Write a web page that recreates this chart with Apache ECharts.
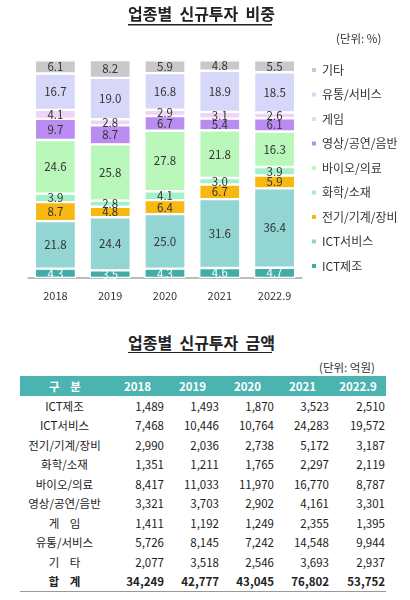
<!DOCTYPE html>
<html><head><meta charset="utf-8">
<script src="https://cdn.jsdelivr.net/npm/echarts@6/dist/echarts.min.js"></script>
<style>
html,body{margin:0;padding:0;background:#fff;width:410px;height:600px;overflow:hidden;font-family:"Noto Sans CJK KR","Noto Sans",sans-serif;color:#222;}
#chart{position:absolute;left:0;top:0;width:410px;height:320px;}
#t2{position:absolute;left:128px;top:333px;width:144px;text-align:center;font-size:16px;font-weight:bold;line-height:19px;border-bottom:1.5px solid #222;white-space:nowrap;}
#u2{position:absolute;left:319px;top:359px;font-size:11.5px;color:#333;white-space:nowrap;}
#tbl{position:absolute;left:20px;top:376px;border-collapse:collapse;table-layout:fixed;font-size:11.5px;}
#tbl th{background:#4BB3B0;color:#fff;font-weight:bold;height:20px;padding:0;text-align:center;}
#tbl th.lab{word-spacing:8px;}
#tbl td{height:19.5px;padding:0 1px 0 0;text-align:right;color:#222;}
#tbl td.lab{text-align:center;word-spacing:8px;}
#tbl tr.tot td{font-weight:bold;border-bottom:1.5px solid #999;}
</style></head>
<body>
<div id="chart"></div>
<div id="t2">업종별&nbsp;&nbsp;신규투자&nbsp;&nbsp;금액</div>
<div id="u2">(단위: 억원)</div>
<table id="tbl"><colgroup><col style="width:90px"><col style="width:55px"><col style="width:55px"><col style="width:55px"><col style="width:55px"><col style="width:56px"></colgroup><thead></thead><tbody></tbody></table>
<script>
// ---- share chart data (%) ----
const years = ['2018','2019','2020','2021','2022.9'];
const seriesNames = ['ICT제조','ICT서비스','전기/기계/장비','화학/소재','바이오/의료','영상/공연/음반','게임','유통/서비스','기타'];
const ictMfg = [4.3,3.5,4.3,4.6,4.7];
const ictSvc = [21.8,24.4,25.0,31.6,36.4];
const elec   = [8.7,4.8,6.4,6.7,5.9];
const chem   = [3.9,2.8,4.1,3.0,3.9];
const bio    = [24.6,25.8,27.8,21.8,16.3];
const media  = [9.7,8.7,6.7,5.4,6.1];
const game   = [4.1,2.8,2.9,3.1,2.6];
const retail = [16.7,19.0,16.8,18.9,18.5];
const etc    = [6.1,8.2,5.9,4.8,5.5];

// ---- amount table data (억원) ----
const tableHeader = ['구 분','2018','2019','2020','2021','2022.9'];
const tableRows = ['ICT제조','ICT서비스','전기/기계/장비','화학/소재','바이오/의료','영상/공연/음반','게 임','유통/서비스','기 타','합 계'];
const amt2018 = [1489,7468,2990,1351,8417,3321,1411,5726,2077,34249];
const amt2019 = [1493,10446,2036,1211,11033,3703,1192,8145,3518,42777];
const amt2020 = [1870,10764,2738,1765,11970,2902,1249,7242,2546,43045];
const amt2021 = [3523,24283,5172,2297,16770,4161,2355,14548,3693,76802];
const amt2022 = [2510,19572,3187,2119,8787,3301,1395,9944,2937,53752];

const seriesData = [ictMfg,ictSvc,elec,chem,bio,media,game,retail,etc];
const colors = ['#42ACA9','#92D5D3','#F8B812','#A2F1CA','#B9F8BA','#BA8BF0','#EED4F6','#D7D7FA','#C9C9C9'];

const chart = echarts.init(document.getElementById('chart'), null, {renderer:'canvas'});
const series = seriesNames.map((n,i)=>({
  name:n, type:'bar', stack:'s', data:seriesData[i], barCategoryGap:'25%',
  itemStyle:{color:colors[i], borderColor:'#fff', borderWidth:1.2},
  label:{show:true, position:'inside', fontSize:11.5, color: i===0?'#fff':'#333',
    fontFamily:'"Noto Sans CJK KR","Noto Sans",sans-serif',
    formatter:p=>Number(p.value).toFixed(1)},
  emphasis:{disabled:true}
}));
chart.setOption({
  animation:false,
  textStyle:{fontFamily:'"Noto Sans CJK KR","Noto Sans",sans-serif'},
  title:[
    {text:'업종별  신규투자  비중', left:128, top:6, padding:0, textStyle:{fontSize:16, fontWeight:'bold', color:'#222'}},
    {text:'(단위: %)', left:336, top:33, padding:0, textStyle:{fontSize:11.5, fontWeight:'normal', color:'#333'}}
  ],
  graphic:[{type:'rect', shape:{x:128, y:24, width:144, height:1.5}, style:{fill:'#222'}}],
  legend:{orient:'vertical', left:310, top:63, padding:0, itemWidth:6, itemHeight:6, itemGap:10.5, icon:'rect',
    data:seriesNames.slice().reverse(),
    textStyle:{fontSize:12, lineHeight:14, color:'#333'}},
  grid:{left:28, right:108, top:60, bottom:42},
  xAxis:{type:'category', data:years,
    axisLine:{lineStyle:{color:'#A6A6A6', width:1.5}}, axisTick:{show:false},
    axisLabel:{fontSize:11, color:'#333', margin:12}},
  yAxis:{type:'value', min:0, max:100, show:false},
  series
});

// build the table
const thead = document.querySelector('#tbl thead');
const htr = document.createElement('tr');
tableHeader.forEach((h,i)=>{const th=document.createElement('th'); if(i===0) th.className='lab'; th.textContent=h; htr.appendChild(th);});
thead.appendChild(htr);
const cols = [amt2018,amt2019,amt2020,amt2021,amt2022];
const tbody = document.querySelector('#tbl tbody');
tableRows.forEach((r,i)=>{
  const tr=document.createElement('tr');
  if(i===tableRows.length-1) tr.className='tot';
  const td=document.createElement('td'); td.className='lab'; td.textContent=r; tr.appendChild(td);
  cols.forEach(c=>{const d=document.createElement('td'); d.textContent=c[i].toLocaleString('en-US'); tr.appendChild(d);});
  tbody.appendChild(tr);
});
</script>
</body></html>
